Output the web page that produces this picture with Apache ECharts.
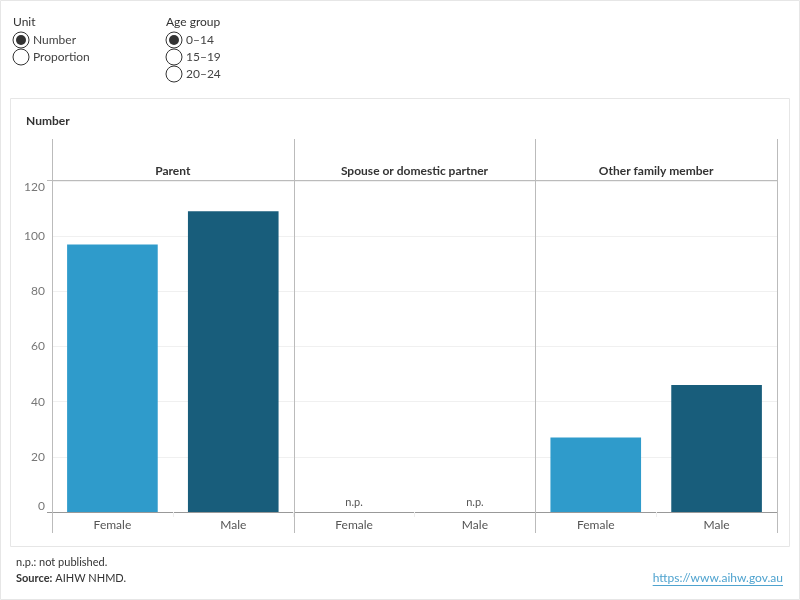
<!DOCTYPE html>
<html>
<head>
<meta charset="utf-8">
<script src="https://cdn.jsdelivr.net/npm/echarts@6/dist/echarts.min.js"></script>
<style>
html,body{margin:0;padding:0;background:#fff;}
#c{width:800px;height:600px;}
</style>
</head>
<body>
<div id="c"></div>
<script>
// ---- data ----
const panels = ['Parent', 'Spouse or domestic partner', 'Other family member'];
const sexes = ['Female', 'Male'];
// null = not published (n.p.)
const femaleValues = [97, null, 27];
const maleValues = [109, null, 46];
const yTicks = [0, 20, 40, 60, 80, 100, 120];
const unitOptions = ['Number', 'Proportion'];
const ageOptions = ['0\u201314', '15\u201319', '20\u201324'];

// ---- layout ----
const FONT = 'Lato, "Open Sans", sans-serif';
const plotLeft = 52, plotRight = 777, plotTop = 181, plotBottom = 512;
const panelW = (plotRight - plotLeft) / panels.length;
const femaleColor = '#2f9bcb';
const maleColor = '#185d7b';

const grids = [], xAxes = [], yAxes = [], series = [];
panels.forEach((p, i) => {
  grids.push({
    left: plotLeft + i * panelW, width: panelW,
    top: plotTop, height: plotBottom - plotTop
  });
  xAxes.push({
    type: 'category', gridIndex: i, data: sexes,
    axisLine: { show: true, lineStyle: { color: '#999', width: 1 } },
    axisTick: { show: true, length: 5, lineStyle: { color: '#eee' } },
    axisLabel: { color: '#555', fontSize: 12, fontFamily: FONT, margin: 7 }
  });
  yAxes.push({
    type: 'value', gridIndex: i, min: yTicks[0], max: yTicks[yTicks.length - 1],
    interval: yTicks[1] - yTicks[0],
    axisLine: { show: false }, axisTick: { show: false },
    axisLabel: { show: i === 0, color: '#777', fontSize: 12, fontFamily: FONT, margin: 7,
      verticalAlignMinLabel: 'bottom', verticalAlignMaxLabel: 'top' },
    splitLine: { show: true, lineStyle: { color: '#f0f0f0', width: 1 } }
  });
  const vals = [femaleValues[i], maleValues[i]];
  series.push({
    type: 'bar', xAxisIndex: i, yAxisIndex: i, barWidth: '75%',
    data: vals.map((v, j) => ({
      value: v === null ? 0 : v,
      itemStyle: { color: j === 0 ? femaleColor : maleColor },
      label: {
        show: v === null, position: 'top', distance: 4,
        formatter: 'n.p.', color: '#555', fontSize: 11, fontFamily: FONT
      }
    })),
    animation: false
  });
});

const graphic = [];
// outer frame
graphic.push({ type: 'rect', shape: { x: 0.5, y: 0.5, width: 799, height: 599 },
  style: { fill: 'none', stroke: '#e6e6e6', lineWidth: 1 }, silent: true });
// chart panel frame
graphic.push({ type: 'rect', shape: { x: 10.5, y: 98.5, width: 779, height: 448 },
  style: { fill: 'none', stroke: '#e6e6e6', lineWidth: 1 }, silent: true });
// panel vertical separators
for (let i = 0; i <= panels.length; i++) {
  const x = Math.round(plotLeft + i * panelW) + 0.5;
  graphic.push({ type: 'line', shape: { x1: x, y1: 139, x2: x, y2: 533 },
    style: { stroke: '#bbb', lineWidth: 1 }, silent: true, z: 10 });
}
// header bottom line
graphic.push({ type: 'line', shape: { x1: 47, y1: 180.5, x2: plotRight, y2: 180.5 },
  style: { stroke: '#bbb', lineWidth: 1 }, silent: true, z: 10 });
// zero tick extension
graphic.push({ type: 'line', shape: { x1: 47, y1: 512.5, x2: plotLeft, y2: 512.5 },
  style: { stroke: '#999', lineWidth: 1 }, silent: true, z: 10 });
// panel headers
panels.forEach((p, i) => {
  graphic.push({ type: 'text', x: plotLeft + (i + 0.5) * panelW, y: 171,
    style: { text: p, fill: '#333', font: 'bold 12px ' + FONT, align: 'center', verticalAlign: 'middle' } });
});
// y axis title
graphic.push({ type: 'text', x: 26, y: 121,
  style: { text: 'Number', fill: '#333', font: 'bold 12px ' + FONT, align: 'left', verticalAlign: 'middle' } });

// radio controls
function radioGroup(title, opts, x, y0) {
  graphic.push({ type: 'text', x: x, y: 22,
    style: { text: title, fill: '#333', font: '12px ' + FONT, verticalAlign: 'middle' } });
  opts.forEach((o, k) => {
    const cy = y0 + k * 17;
    graphic.push({ type: 'circle', shape: { cx: x + 8, cy: cy, r: 8 },
      style: { fill: '#fff', stroke: '#333', lineWidth: 1 } });
    if (k === 0) graphic.push({ type: 'circle', shape: { cx: x + 8, cy: cy, r: 5 },
      style: { fill: '#333' } });
    graphic.push({ type: 'text', x: x + 20, y: cy,
      style: { text: o, fill: '#444', font: '12px ' + FONT, verticalAlign: 'middle' } });
  });
}
radioGroup('Unit', unitOptions, 13, 40);
radioGroup('Age group', ageOptions, 166, 40);

// footer
graphic.push({ type: 'text', x: 16, y: 562,
  style: { text: 'n.p.: not published.', fill: '#333', font: '11px ' + FONT, verticalAlign: 'middle' } });
graphic.push({ type: 'text', x: 16, y: 578,
  style: { text: '{b|Source:} AIHW NHMD.', fill: '#333', fontSize: 11, fontFamily: FONT, verticalAlign: 'middle',
    rich: { b: { fontWeight: 'bold', fontSize: 11, fontFamily: FONT, fill: '#333' } } } });
const linkText = 'https://www.aihw.gov.au';
const linkFont = '12px ' + FONT;
const cvs = document.createElement('canvas').getContext('2d');
cvs.font = linkFont;
const linkW = cvs.measureText(linkText).width;
graphic.push({ type: 'text', x: 783, y: 578,
  style: { text: linkText, fill: '#4fa3cf', font: linkFont, align: 'right', verticalAlign: 'middle' } });
graphic.push({ type: 'line', shape: { x1: 783 - linkW, y1: 585.5, x2: 783, y2: 585.5 },
  style: { stroke: '#4fa3cf', lineWidth: 1 } });

const chart = echarts.init(document.getElementById('c'), null, { renderer: 'canvas' });
chart.setOption({
  animation: false,
  backgroundColor: '#fff',
  grid: grids, xAxis: xAxes, yAxis: yAxes, series: series,
  graphic: graphic
});
</script>
</body>
</html>
